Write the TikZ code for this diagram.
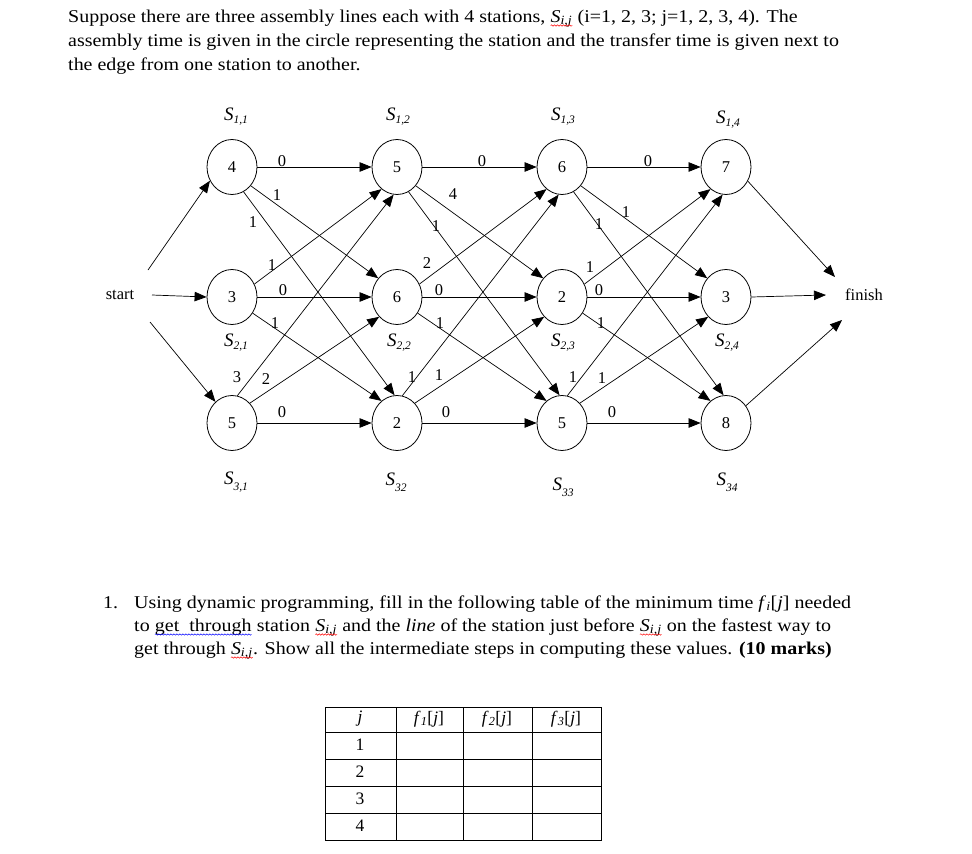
\documentclass[tikz,border=0pt]{standalone}
\usepackage{fontspec}
\setmainfont{Liberation Serif}
\newfontfamily\widefont[FakeStretch=1.11]{Liberation Serif}
\usetikzlibrary{shapes.geometric,arrows.meta,decorations.pathmorphing}
\newcommand\wv[2][red]{\tikz[baseline=(w.base)]{\node[inner sep=0pt,outer sep=0pt,anchor=base](w){#2};\draw[#1,line width=0.5pt,decorate,decoration={snake,amplitude=0.7pt,segment length=3pt}]([yshift=-3.5pt]w.base west)--([yshift=-3.5pt]w.base east);}}
\newcommand\Sij{\textit{S}\textsubscript{\textit{i,j}}}
\newcommand\Slab[1]{\textit{S}\raisebox{-3pt}{\fontsize{11.5}{11.5}\selectfont\textit{#1}}}
\newcommand\Slow[1]{\textit{S}\raisebox{-6pt}{\fontsize{11.5}{11.5}\selectfont\textit{#1}}}
\begin{document}
\begin{tikzpicture}[x=1pt,y=-1pt,
  txt/.style={anchor=base west,inner sep=0pt,font=\widefont\fontsize{18}{21}\selectfont},
  st/.style={ellipse,draw,line width=0.8pt,minimum width=50pt,minimum height=55pt,inner sep=0pt,font=\fontsize{16.5}{16.5}\selectfont},
  lbl/.style={inner sep=0pt,font=\fontsize{16.5}{16.5}\selectfont},
  slbl/.style={inner sep=0pt,font=\fontsize{19}{19}\selectfont},
  edge/.style={-{Triangle[length=12pt,width=9.5pt]},line width=0.7pt},
  tcell/.style={inner sep=0pt,font=\fontsize{17.5}{17.5}\selectfont}]
\useasboundingbox (0,0) rectangle (972,854);
% header text
\node[txt] (h1) at (68,22) {Suppose there are three assembly lines each with 4 stations, \wv{\Sij} (i=1, 2, 3; j=1, 2, 3, 4). The};
\node[txt] (h2) at (68,46) {assembly time is given in the circle representing the station and the transfer time is given next to};
\node[txt] (h3) at (68,70) {the edge from one station to another.};
% stations
\foreach \r/\y in {1/167,2/297,3/423}{
  \foreach \c/\x in {1/232,2/397,3/562,4/726}{
    \coordinate (p\r\c) at (\x,\y);
  }
}
\node[st] (s11) at (p11) {4};
\node[st] (s12) at (p12) {5};
\node[st] (s13) at (p13) {6};
\node[st] (s14) at (p14) {7};
\node[st] (s21) at (p21) {3};
\node[st] (s22) at (p22) {6};
\node[st] (s23) at (p23) {2};
\node[st] (s24) at (p24) {3};
\node[st] (s31) at (p31) {5};
\node[st] (s32) at (p32) {2};
\node[st] (s33) at (p33) {5};
\node[st] (s34) at (p34) {8};
% station names
\node[slbl] (n11) at (236,117) {\Slab{1,1}};
\node[slbl] (n12) at (398,117) {\Slab{1,2}};
\node[slbl] (n13) at (563,117) {\Slab{1,3}};
\node[slbl] (n14) at (728,120) {\Slab{1,4}};
\node[slbl] (n21) at (236,343) {\Slab{2,1}};
\node[slbl] (n22) at (399,343) {\Slab{2,2}};
\node[slbl] (n23) at (563,343) {\Slab{2,3}};
\node[slbl] (n24) at (727,343) {\Slab{2,4}};
\node[slbl] (n31) at (236,482) {\Slow{3,1}};
\node[slbl] (n32) at (396,482) {\Slow{32}};
\node[slbl] (n33) at (563,487) {\Slow{33}};
\node[slbl] (n34) at (727,482) {\Slow{34}};
% start / finish
\node[lbl] (start) at (120,295) {start};
\node[lbl] (finish) at (864,295) {finish};
\coordinate (g1) at (148,270);
\coordinate (g2) at (152,295);
\coordinate (g3) at (150,322);
\coordinate (f1) at (835,277);
\coordinate (f2) at (826,295);
\coordinate (f3) at (842,320);
\draw[edge] (g1) -- (s11.-148);
\draw[edge] (g2) -- (s21.west);
\draw[edge] (g3) -- (s31.128);
\draw[edge] (s14.-33) -- (f1);
\draw[edge] (s24.east) -- (f2);
\draw[edge] (s34.41) -- (f3);
% transfer edges
\foreach \a/\b in {1/2,2/3,3/4}{
  \draw[edge] (s1\a.east) -- (s1\b.west);
  \draw[edge] (s2\a.east) -- (s2\b.west);
  \draw[edge] (s3\a.east) -- (s3\b.west);
  \draw[edge] (s1\a.-45) -- (s2\b.135);
  \draw[edge] (s1\a.-65) -- (s3\b.95);
  \draw[edge] (s2\a.30) -- (s1\b.-125);
  \draw[edge] (s2\a.-38) -- (s3\b.125);
  \draw[edge] (s3\a.79) -- (s1\b.-97);
  \draw[edge] (s3\a.48) -- (s2\b.-132);
}
% transfer time labels
\node[lbl] (t1) at (282,161) {0};
\node[lbl] (t2) at (277,195) {1};
\node[lbl] (t3) at (253,222) {1};
\node[lbl] (t4) at (272,265) {1};
\node[lbl] (t5) at (283,290) {0};
\node[lbl] (t6) at (275,323) {1};
\node[lbl] (t7) at (237,377) {3};
\node[lbl] (t8) at (266,379) {2};
\node[lbl] (t9) at (282,412) {0};
\node[lbl] (t10) at (482,161) {0};
\node[lbl] (t11) at (453,194) {4};
\node[lbl] (t12) at (436,226) {1};
\node[lbl] (t13) at (427,263) {2};
\node[lbl] (t14) at (439,290) {0};
\node[lbl] (t15) at (440,323) {1};
\node[lbl] (t16) at (412,377) {1};
\node[lbl] (t17) at (439,375) {1};
\node[lbl] (t18) at (446,412) {0};
\node[lbl] (t19) at (648,161) {0};
\node[lbl] (t20) at (626,212) {1};
\node[lbl] (t21) at (599,224) {1};
\node[lbl] (t22) at (590,267) {1};
\node[lbl] (t23) at (599,290) {0};
\node[lbl] (t24) at (601,323) {1};
\node[lbl] (t25) at (573,377) {1};
\node[lbl] (t26) at (602,378) {1};
\node[lbl] (t27) at (612,412) {0};
% question
\node[txt] (q0) at (103,608) {1.};
\node[txt] (q1) at (134,608) {Using dynamic programming, fill in the following table of the minimum time \textit{f}\textsubscript{\textit{i}}[\textit{j}] needed};
\node[txt] (q2) at (134,631) {to \wv[blue]{get\ \ through} station \wv{\Sij} and the \textit{line} of the station just before \wv{\Sij} on the fastest way to};
\node[txt] (q3) at (134,654) {get through \wv{\Sij}. Show all the intermediate steps in computing these values. \textbf{(10 marks)}};
% table
\draw[line width=0.8pt] (325,707) rectangle (601,840);
\foreach \xx in {396,463,532}{\draw[line width=0.8pt] (\xx,707) -- (\xx,840);}
\foreach \yy in {732,759,786,813}{\draw[line width=0.8pt] (325,\yy) -- (601,\yy);}
\node[tcell] (c0) at (360,719) {\textit{j}};
\node[tcell] (c1) at (429,719) {\textit{f}\textsubscript{\textit{1}}[\textit{j}]};
\node[tcell] (c2) at (497,719) {\textit{f}\textsubscript{\textit{2}}[\textit{j}]};
\node[tcell] (c3) at (566,719) {\textit{f}\textsubscript{\textit{3}}[\textit{j}]};
\node[tcell] (r1) at (360,745) {1};
\node[tcell] (r2) at (360,772) {2};
\node[tcell] (r3) at (360,799) {3};
\node[tcell] (r4) at (360,826) {4};
\end{tikzpicture}
\end{document}
